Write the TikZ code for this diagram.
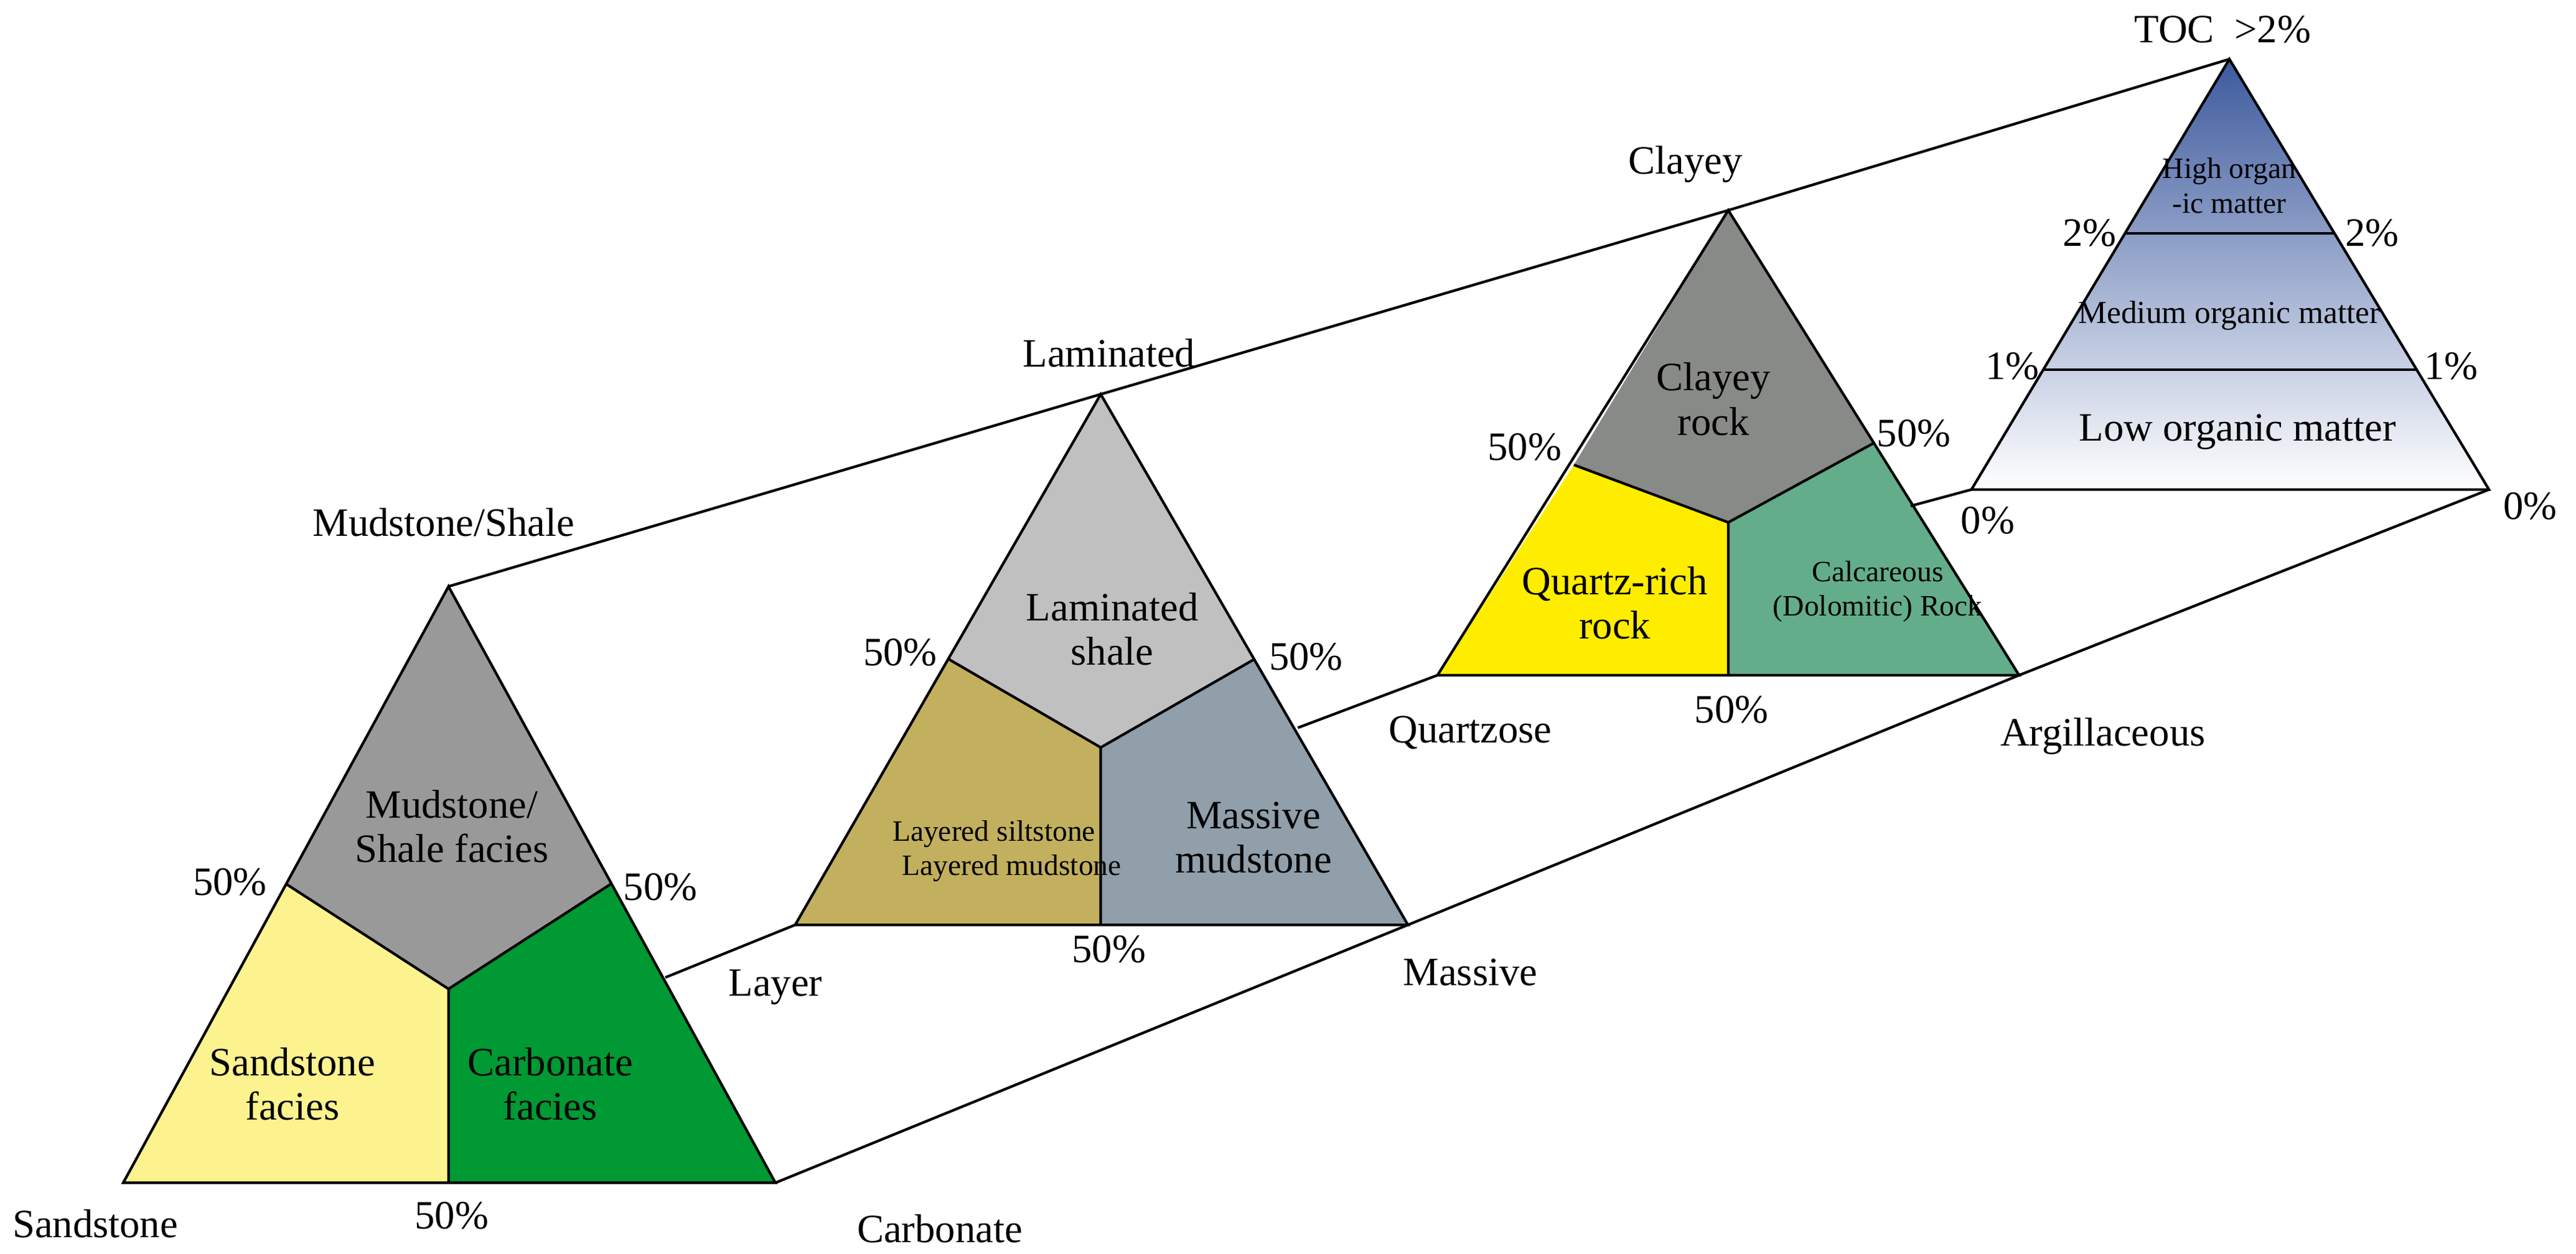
\documentclass[tikz,border=0pt]{standalone}
\usepackage{fontspec}
\setmainfont{Liberation Serif}
\begin{document}
\begin{tikzpicture}[x=1pt,y=-1pt,
  edge/.style={line width=1.6pt,line join=miter},
  lbl/.style={font=\fontsize{24.5}{27}\selectfont,align=center},
  sml/.style={font=\fontsize{18}{21}\selectfont,align=center},
  fil/.style={draw=black,line width=1.4pt}]
\useasboundingbox (0,0) rectangle (1568,763);
\definecolor{g1}{HTML}{999999}\definecolor{y1}{HTML}{FDF38E}\definecolor{gr1}{HTML}{009933}
\definecolor{g2}{HTML}{C0C0C0}\definecolor{k2}{HTML}{C2B05E}\definecolor{b2}{HTML}{909FAA}
\definecolor{g3}{HTML}{888A87}\definecolor{y3}{HTML}{FFED00}\definecolor{gr3}{HTML}{64AD8A}
\definecolor{nv}{HTML}{3D5A9E}
% triangle 1
\coordinate (A1) at (273,357);\coordinate (L1) at (75,720);\coordinate (R1) at (472,720);
\coordinate (C1) at (273,602);\coordinate (ML1) at (174,538);\coordinate (MR1) at (372,538);\coordinate (MB1) at (273,720);
\fill[g1] (A1)--(MR1)--(C1)--(ML1)--cycle;
\fill[y1] (ML1)--(C1)--(MB1)--(L1)--cycle;
\fill[gr1] (MR1)--(C1)--(MB1)--(R1)--cycle;
\draw[edge] (ML1)--(C1)--(MR1) (C1)--(MB1);
\draw[edge] (A1)--(L1)--(R1)--cycle;
% triangle 2
\coordinate (A2) at (670,240);\coordinate (L2) at (484,563);\coordinate (R2) at (857,563);
\coordinate (C2) at (670,455);\coordinate (ML2) at (577,401);\coordinate (MR2) at (764,401);\coordinate (MB2) at (670,563);
\fill[g2] (A2)--(MR2)--(C2)--(ML2)--cycle;
\fill[k2] (ML2)--(C2)--(MB2)--(L2)--cycle;
\fill[b2] (MR2)--(C2)--(MB2)--(R2)--cycle;
\draw[edge] (ML2)--(C2)--(MR2) (C2)--(MB2);
\draw[edge] (A2)--(L2)--(R2)--cycle;
% triangle 3
\coordinate (A3) at (1052,128);\coordinate (L3) at (875,411);\coordinate (R3) at (1229,411);
\coordinate (C3) at (1052,318);\coordinate (ML3) at (958,283);\coordinate (MR3) at (1140,270);\coordinate (MB3) at (1052,411);
\fill[g3] (A3)--(MR3)--(C3)--(ML3)--cycle;
\fill[y3] (ML3)--(C3)--(MB3)--(L3)--cycle;
\fill[gr3] (MR3)--(C3)--(MB3)--(R3)--cycle;
\draw[edge] (ML3)--(C3)--(MR3) (C3)--(MB3);
\draw[edge] (A3)--(L3)--(R3)--cycle;
% triangle 4
\coordinate (A4) at (1357,36);\coordinate (L4) at (1200,298);\coordinate (R4) at (1515,298);
\shade[top color=nv,bottom color=white] (A4)--(L4)--(R4)--cycle;
\coordinate (P2L) at (1294,142);\coordinate (P2R) at (1421,142);
\coordinate (P1L) at (1244,225);\coordinate (P1R) at (1471,225);
\draw[edge] (P2L)--(P2R) (P1L)--(P1R);
\draw[edge] (A4)--(L4)--(R4)--cycle;
% connectors
\coordinate (S1) at (405,595);\coordinate (S2) at (790,443);\coordinate (S3) at (1163,308);
\draw[edge] (A1)--(A2)--(A3)--(A4);
\draw[edge] (R1)--(R2)--(R3)--(R4);
\draw[edge] (S1)--(L2) (S2)--(L3) (S3)--(L4);
% labels tri1
\node[lbl] (t1) at (270,318) {Mudstone/Shale};
\node[lbl] (t2) at (275,503) {Mudstone/\\Shale facies};
\node[lbl] (t3) at (178,660) {Sandstone\\facies};
\node[lbl] (t4) at (335,660) {Carbonate\\facies};
\node[lbl] (t5) at (140,537) {50\%};
\node[lbl] (t6) at (402,540) {50\%};
\node[lbl] (t7) at (275,740) {50\%};
\node[lbl] (t8) at (58,745) {Sandstone};
\node[lbl] (t9) at (572,748) {Carbonate};
% tri2
\node[lbl] (u1) at (675,215) {Laminated};
\node[lbl] (u2) at (677,383) {Laminated\\shale};
\node[sml] (u3) at (605,518) {Layered siltstone\\\hspace*{1.2em}Layered mudstone};
\node[lbl] (u4) at (763,510) {Massive\\mudstone};
\node[lbl] (u5) at (548,397) {50\%};
\node[lbl] (u6) at (795,400) {50\%};
\node[lbl] (u7) at (675,578) {50\%};
\node[lbl] (u8) at (472,601) {Layer};
\node[lbl] (u9) at (895,592) {Massive};
% tri3
\node[lbl] (v1) at (1026,100) {Clayey};
\node[lbl] (v2) at (1043,243) {Clayey\\rock};
\node[lbl] (v3) at (983,367) {Quartz-rich\\rock};
\node[sml] (v4) at (1143,360) {Calcareous\\(Dolomitic) Rock};
\node[lbl] (v5) at (928,272) {50\%};
\node[lbl] (v6) at (1165,264) {50\%};
\node[lbl] (v7) at (1054,432) {50\%};
\node[lbl] (v8) at (895,446) {Quartzose};
\node[lbl] (v9) at (1280,448) {Argillaceous};
% tri4
\node[lbl] (w1) at (1353,18) {TOC \ >2\%};
\node[sml] (w2) at (1357,113) {High organ\\-ic matter};
\node[sml,font=\fontsize{19.5}{22}\selectfont] (w3) at (1357,192) {Medium organic matter};
\node[lbl] (w4) at (1362,263) {Low organic matter};
\node[lbl] (w5) at (1272,142) {2\%};
\node[lbl] (w6) at (1444,142) {2\%};
\node[lbl] (w7) at (1225,223) {1\%};
\node[lbl] (w8) at (1492,223) {1\%};
\node[lbl] (w9) at (1210,317) {0\%};
\node[lbl] (w10) at (1540,308) {0\%};
\end{tikzpicture}
\end{document}
